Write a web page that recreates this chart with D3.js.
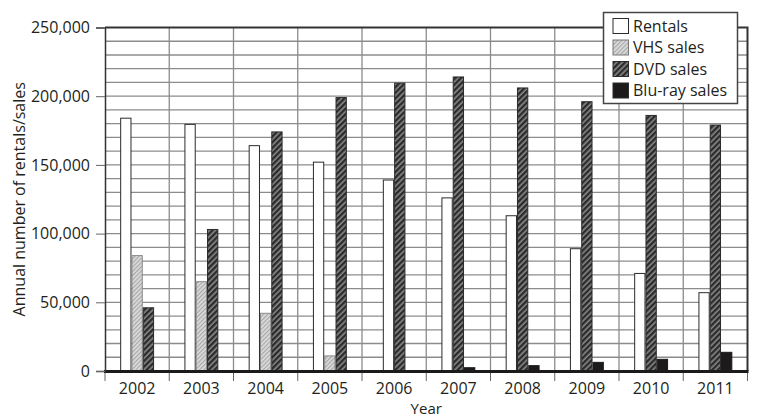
<!DOCTYPE html>
<html>
<head>
<meta charset="utf-8">
<script src="https://cdn.jsdelivr.net/npm/d3@7/dist/d3.min.js"></script>
<style>
  html, body { margin: 0; padding: 0; background: #fff; }
  svg { display: block; }
  text { font-family: "Open Sans", "Noto Sans", sans-serif; fill: #231f20; }
</style>
</head>
<body>
<svg id="chart" width="768" height="419"></svg>
<script>
// ---- data ----
const years = ["2002","2003","2004","2005","2006","2007","2008","2009","2010","2011"];
const seriesNames = ["Rentals","VHS sales","DVD sales","Blu-ray sales"];
const rentals = [184000,179500,164000,152000,139000,126000,113000,89000,71000,57000];
const vhsSales = [84000,65000,42000,11000,0,0,0,0,0,0];
const dvdSales = [46000,103000,174000,199000,209500,214000,206000,196000,186000,179000];
const blurayS = [0,0,0,0,0,2400,3900,6300,8500,13600];
const yTickValues = [0,50000,100000,150000,200000,250000];

const seriesValues = [rentals, vhsSales, dvdSales, blurayS];

(function(){
const svg = d3.select("#chart");
const defs = svg.append("defs");

// patterns
const pV = defs.append("pattern").attr("id","pVHS").attr("patternUnits","userSpaceOnUse")
  .attr("width",3).attr("height",3).attr("patternTransform","rotate(45)");
pV.append("rect").attr("width",3).attr("height",3).attr("fill","#dcdcdc");
pV.append("rect").attr("width",1.2).attr("height",3).attr("fill","#a8a8a8");

const pD = defs.append("pattern").attr("id","pDVD").attr("patternUnits","userSpaceOnUse")
  .attr("width",4).attr("height",4).attr("patternTransform","rotate(45)");
pD.append("rect").attr("width",4).attr("height",4).attr("fill","#8a8a8a");
pD.append("rect").attr("width",2.4).attr("height",4).attr("fill","#2b2b2b");

const fills = ["#ffffff","url(#pVHS)","url(#pDVD)","#1c1a1b"];
const strokes = ["#2b2b2b","#8a8a8a","#2b2b2b","#1c1a1b"];

const pLeft = 105, pRight = 747.5, pTop = 27.5, pBottom = 371;
const x = d3.scaleBand().domain(years).range([pLeft,pRight]).padding(0);
const y = d3.scaleLinear().domain([0,250000]).range([pBottom,pTop]);

// grid
const gGrid = svg.append("g");
gGrid.selectAll("line.h").data(d3.range(10000,250000,10000)).join("line")
  .attr("x1",pLeft).attr("x2",pRight).attr("y1",d=>y(d)).attr("y2",d=>y(d))
  .attr("stroke","#8c8c8c").attr("stroke-width",1.3);
const bounds = years.slice(1).map(d=>x(d));
gGrid.selectAll("line.v").data(bounds).join("line")
  .attr("x1",d=>d).attr("x2",d=>d).attr("y1",pTop).attr("y2",pBottom)
  .attr("stroke","#8c8c8c").attr("stroke-width",1.3);

// frame top & right
svg.append("path").attr("d",`M${pLeft},${pTop}H${pRight}V${pBottom}`)
  .attr("fill","none").attr("stroke","#333").attr("stroke-width",2);

// bars
const barW = 11.3;
const gBars = svg.append("g");
years.forEach((yr,i)=>{
  const present = seriesValues.map((vals,s)=>({s, v: vals[i]})).filter(d=>d.v>0);
  const start = x(yr) + x.bandwidth()/2 - present.length*barW/2;
  gBars.selectAll(null).data(present).join("rect")
    .attr("x",(d,k)=>start + k*barW + 0.5)
    .attr("width",barW-1)
    .attr("y",d=>y(d.v))
    .attr("height",d=>pBottom - y(d.v))
    .attr("fill",d=>fills[d.s])
    .attr("stroke",d=>strokes[d.s])
    .attr("stroke-width",1);
});

// baseline
svg.append("line").attr("x1",pLeft-1).attr("x2",pRight+1).attr("y1",pBottom+0.5).attr("y2",pBottom+0.5)
  .attr("stroke","#1c1a1b").attr("stroke-width",3);

// y axis
const yAxis = svg.append("g").attr("transform",`translate(${pLeft},0)`)
  .call(d3.axisLeft(y).tickValues(yTickValues).tickFormat(d3.format(",")).tickSize(9).tickPadding(6));
yAxis.select(".domain").attr("stroke","#333").attr("stroke-width",1.5);
yAxis.selectAll(".tick line").attr("stroke","#666");
yAxis.selectAll("text").attr("font-size",16).attr("fill","#231f20");

// x axis labels
const xAxis = svg.append("g").attr("transform",`translate(0,${pBottom})`)
  .call(d3.axisBottom(x).tickSize(0).tickPadding(12));
xAxis.select(".domain").remove();
xAxis.selectAll("text").attr("font-size",16).attr("fill","#231f20");
// x boundary ticks
svg.append("g").selectAll("line").data(years.map(d=>x(d)).concat([pRight])).join("line")
  .attr("x1",d=>d).attr("x2",d=>d).attr("y1",pBottom+2).attr("y2",pBottom+10)
  .attr("stroke","#666").attr("stroke-width",1);

// axis titles
svg.append("text").attr("x",(pLeft+pRight)/2).attr("y",414).attr("text-anchor","middle")
  .attr("font-size",15).text("Year");
svg.append("text").attr("transform",`translate(25,${(pTop+pBottom)/2}) rotate(-90)`)
  .attr("text-anchor","middle").attr("font-size",16).text("Annual number of rentals/sales");

// legend
const lg = svg.append("g");
lg.append("rect").attr("x",603.5).attr("y",12.5).attr("width",134).attr("height",91)
  .attr("fill","#fff").attr("stroke","#444").attr("stroke-width",1.5);
const rows = lg.selectAll("g.row").data(seriesNames).join("g")
  .attr("transform",(d,i)=>`translate(613,${18.5 + i*21.5})`);
rows.append("rect").attr("width",15.5).attr("height",15)
  .attr("fill",(d,i)=>fills[i]).attr("stroke",(d,i)=>i===1?"#777":"#2b2b2b").attr("stroke-width",1);
rows.append("text").attr("x",20).attr("y",13).attr("font-size",16).text(d=>d);
})();
</script>
</body>
</html>
